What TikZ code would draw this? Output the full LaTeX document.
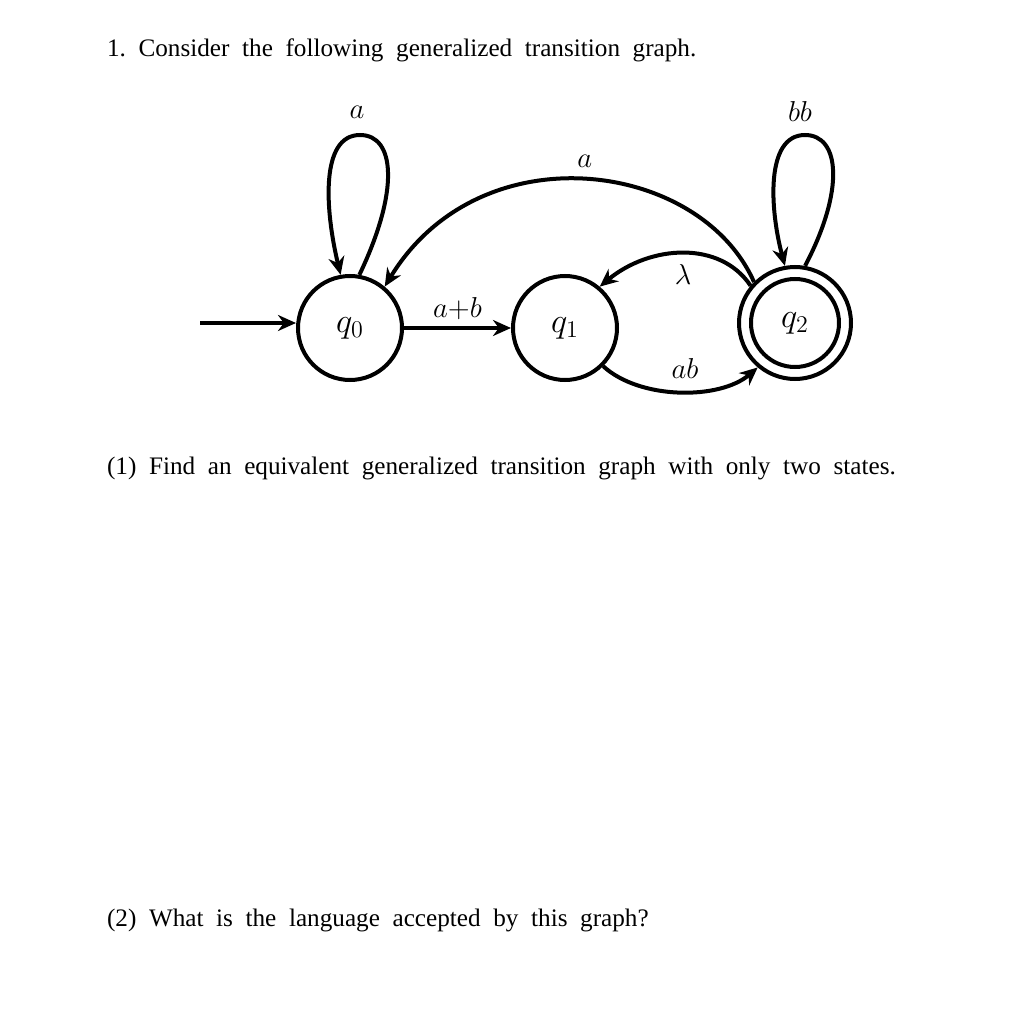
\documentclass[tikz,border=0pt]{standalone}
\usepackage{fontspec}
\setmainfont{Liberation Serif}
\usetikzlibrary{arrows.meta}
\begin{document}
\begin{tikzpicture}[x=0.5pt,y=-0.5pt,
  st/.style={circle,draw,line width=2pt,minimum size=52pt,inner sep=0pt,font=\LARGE},
  ed/.style={line width=2pt,-{Stealth[length=9pt,width=8pt]}},
  lb/.style={font=\Large},
  tx/.style={anchor=west,font=\fontsize{12.6}{14}\selectfont}]
\useasboundingbox (0,0) rectangle (1024,1011);
\node[tx] (t1) at (100,50) {1.\ \ Consider\ \ the\ \ following\ \ generalized\ \ transition\ \ graph.};
\node[tx] (t2) at (100,468) {(1)\ \ Find\ \ an\ \ equivalent\ \ generalized\ \ transition\ \ graph\ \ with\ \ only\ \ two\ \ states.};
\node[tx] (t3) at (100,920) {(2)\ \ What\ \ is\ \ the\ \ language\ \ accepted\ \ by\ \ this\ \ graph?};
\node[st] (q0) at (350,328) {$q_0$};
\node[st] (q1) at (565,328) {$q_1$};
\node[st,minimum size=56pt] (q2) at (795,323) {};
\node[st,minimum size=44pt] (q2i) at (795,323) {$q_2$};
\coordinate (s) at (200,323);
\draw[ed] (s) -- (s -| q0.west);
\draw[ed] (q0) -- node[lb,above]{$a{+}b$} (q1);
\draw[ed] (q0.80) .. controls (400,190) and (395,135) .. (360,135) .. controls (320,135) and (325,210) .. (q0.100);
\node[lb] (la) at (357,112) {$a$};
\draw[ed] (q2.80) .. controls (845,190) and (840,135) .. (805,135) .. controls (765,135) and (770,210) .. (q2.100);
\node[lb] (lbb) at (800,112) {$bb$};
\draw[ed] (q2.135) .. controls (700,160) and (480,130) .. node[lb,above=2pt]{$a$} (q0.50);
\draw[ed] (q2.140) .. controls (720,240) and (650,245) .. (q1.50);
\node[lb] (ll) at (683,275) {$\lambda$};
\draw[ed] (q1.-45) .. controls (640,400) and (720,400) .. (q2.-130);
\node[lb] (lab) at (685,368) {$ab$};
\end{tikzpicture}
\end{document}
